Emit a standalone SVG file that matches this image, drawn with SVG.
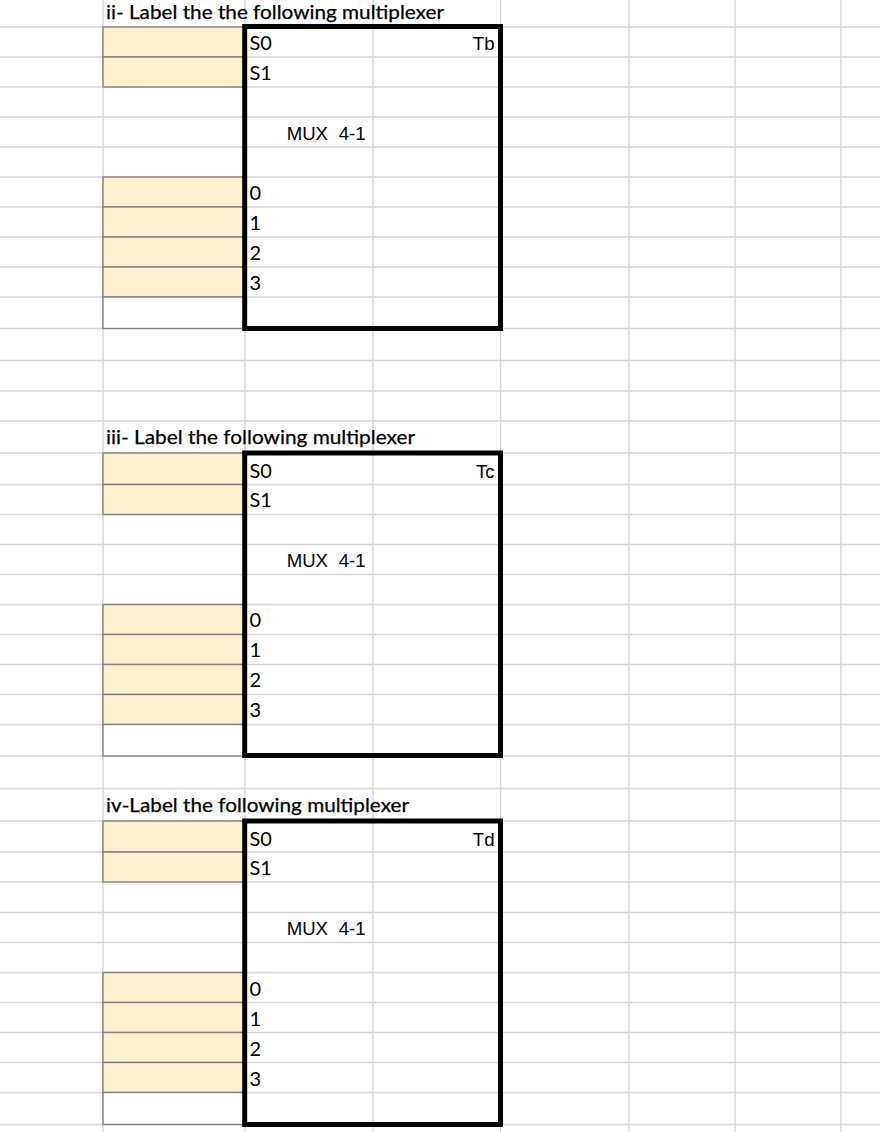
<svg xmlns="http://www.w3.org/2000/svg" width="880" height="1132" viewBox="0 0 880 1132">
<defs>
<style>
.grid line{stroke:#d6d6d6;stroke-width:1.5}
.cell{fill:#FCF1D0;stroke:#808080;stroke-width:1.4}
.blank{fill:#ffffff;stroke:#808080;stroke-width:1.4}
.box{fill:none;stroke:#000000;stroke-width:5}
.title{font-family:Lato,"Liberation Sans",sans-serif;font-size:19px;fill:#000;stroke:#000;stroke-width:0.25}
.lbl{font-family:Lato,"Liberation Sans",sans-serif;font-size:20px;fill:#000}
.ar{font-family:"Liberation Sans",Arial,sans-serif;font-size:18.6px;fill:#000}
</style>
</defs>
<rect x="0" y="0" width="880" height="1132" fill="#ffffff"/>
<g id="grid" class="grid">
<line x1="103" y1="0" x2="103" y2="1132"/>
<line x1="245" y1="0" x2="245" y2="1132"/>
<line x1="373" y1="0" x2="373" y2="1132"/>
<line x1="500.5" y1="0" x2="500.5" y2="1132"/>
<line x1="629" y1="0" x2="629" y2="1132"/>
<line x1="735" y1="0" x2="735" y2="1132"/>
<line x1="841" y1="0" x2="841" y2="1132"/>
<line x1="0" y1="27" x2="880" y2="27"/>
<line x1="0" y1="57" x2="880" y2="57"/>
<line x1="0" y1="87" x2="880" y2="87"/>
<line x1="0" y1="117" x2="880" y2="117"/>
<line x1="0" y1="147" x2="880" y2="147"/>
<line x1="0" y1="177" x2="880" y2="177"/>
<line x1="0" y1="207" x2="880" y2="207"/>
<line x1="0" y1="237" x2="880" y2="237"/>
<line x1="0" y1="267" x2="880" y2="267"/>
<line x1="0" y1="297" x2="880" y2="297"/>
<line x1="0" y1="328.5" x2="880" y2="328.5"/>
<line x1="0" y1="360.5" x2="880" y2="360.5"/>
<line x1="0" y1="391" x2="880" y2="391"/>
<line x1="0" y1="421" x2="880" y2="421"/>
<line x1="0" y1="453" x2="880" y2="453"/>
<line x1="0" y1="484.5" x2="880" y2="484.5"/>
<line x1="0" y1="514.5" x2="880" y2="514.5"/>
<line x1="0" y1="544.5" x2="880" y2="544.5"/>
<line x1="0" y1="574.5" x2="880" y2="574.5"/>
<line x1="0" y1="604.5" x2="880" y2="604.5"/>
<line x1="0" y1="634.5" x2="880" y2="634.5"/>
<line x1="0" y1="664.5" x2="880" y2="664.5"/>
<line x1="0" y1="694.5" x2="880" y2="694.5"/>
<line x1="0" y1="724.5" x2="880" y2="724.5"/>
<line x1="0" y1="756" x2="880" y2="756"/>
<line x1="0" y1="788.5" x2="880" y2="788.5"/>
<line x1="0" y1="821" x2="880" y2="821"/>
<line x1="0" y1="852" x2="880" y2="852"/>
<line x1="0" y1="882" x2="880" y2="882"/>
<line x1="0" y1="912.5" x2="880" y2="912.5"/>
<line x1="0" y1="942.5" x2="880" y2="942.5"/>
<line x1="0" y1="972.5" x2="880" y2="972.5"/>
<line x1="0" y1="1002.5" x2="880" y2="1002.5"/>
<line x1="0" y1="1032.5" x2="880" y2="1032.5"/>
<line x1="0" y1="1062.5" x2="880" y2="1062.5"/>
<line x1="0" y1="1092.5" x2="880" y2="1092.5"/>
<line x1="0" y1="1124.5" x2="880" y2="1124.5"/>
</g>
<g id="connectors"></g>
<g id="mux-b">
<text class="title" x="106" y="18.5" textLength="338" lengthAdjust="spacingAndGlyphs">ii- Label the the following multiplexer</text>
<rect class="cell" x="103" y="27" width="142" height="30"/>
<rect class="cell" x="103" y="57" width="142" height="30"/>
<rect class="cell" x="103" y="177" width="142" height="30"/>
<rect class="cell" x="103" y="207" width="142" height="30"/>
<rect class="cell" x="103" y="237" width="142" height="30"/>
<rect class="cell" x="103" y="267" width="142" height="30"/>
<rect class="blank" x="103" y="297" width="142" height="31.5"/>
<rect class="box" x="244.7" y="26.5" width="255.8" height="302"/>
<text class="lbl" x="249.5" y="50">S0</text>
<text class="lbl" x="249.5" y="80">S1</text>
<text class="ar" x="286.7" y="139.5" word-spacing="5.5">MUX 4-1</text>
<text class="ar" x="494.5" y="50" text-anchor="end">Tb</text>
<text class="lbl" x="249.5" y="200">0</text>
<text class="lbl" x="249.5" y="230">1</text>
<text class="lbl" x="249.5" y="260">2</text>
<text class="lbl" x="249.5" y="290">3</text>
</g>
<g id="mux-c">
<text class="title" x="106" y="443.5" textLength="309" lengthAdjust="spacingAndGlyphs">iii- Label the following multiplexer</text>
<rect class="cell" x="103" y="453" width="142" height="31.5"/>
<rect class="cell" x="103" y="484.5" width="142" height="30"/>
<rect class="cell" x="103" y="604.5" width="142" height="30"/>
<rect class="cell" x="103" y="634.5" width="142" height="30"/>
<rect class="cell" x="103" y="664.5" width="142" height="30"/>
<rect class="cell" x="103" y="694.5" width="142" height="30"/>
<rect class="blank" x="103" y="724.5" width="142" height="31.5"/>
<rect class="box" x="244.7" y="453" width="255.8" height="302.5"/>
<text class="lbl" x="249.5" y="477.5">S0</text>
<text class="lbl" x="249.5" y="507">S1</text>
<text class="ar" x="286.7" y="567" word-spacing="5.5">MUX 4-1</text>
<text class="ar" x="494.5" y="477.5" text-anchor="end">Tc</text>
<text class="lbl" x="249.5" y="627">0</text>
<text class="lbl" x="249.5" y="657">1</text>
<text class="lbl" x="249.5" y="687">2</text>
<text class="lbl" x="249.5" y="717">3</text>
</g>
<g id="mux-d">
<text class="title" x="106" y="811.5" textLength="303" lengthAdjust="spacingAndGlyphs">iv-Label the following multiplexer</text>
<rect class="cell" x="103" y="821" width="142" height="31"/>
<rect class="cell" x="103" y="852" width="142" height="30"/>
<rect class="cell" x="103" y="972.5" width="142" height="30"/>
<rect class="cell" x="103" y="1002.5" width="142" height="30"/>
<rect class="cell" x="103" y="1032.5" width="142" height="30"/>
<rect class="cell" x="103" y="1062.5" width="142" height="30"/>
<rect class="blank" x="103" y="1092.5" width="142" height="32"/>
<rect class="box" x="244.7" y="821" width="255.8" height="303.5"/>
<text class="lbl" x="249.5" y="845.5">S0</text>
<text class="lbl" x="249.5" y="875">S1</text>
<text class="ar" x="286.7" y="935" word-spacing="5.5">MUX 4-1</text>
<text class="ar" x="494.5" y="845.5" text-anchor="end">Td</text>
<text class="lbl" x="249.5" y="995.5">0</text>
<text class="lbl" x="249.5" y="1025.5">1</text>
<text class="lbl" x="249.5" y="1055.5">2</text>
<text class="lbl" x="249.5" y="1085.5">3</text>
</g>
</svg>
